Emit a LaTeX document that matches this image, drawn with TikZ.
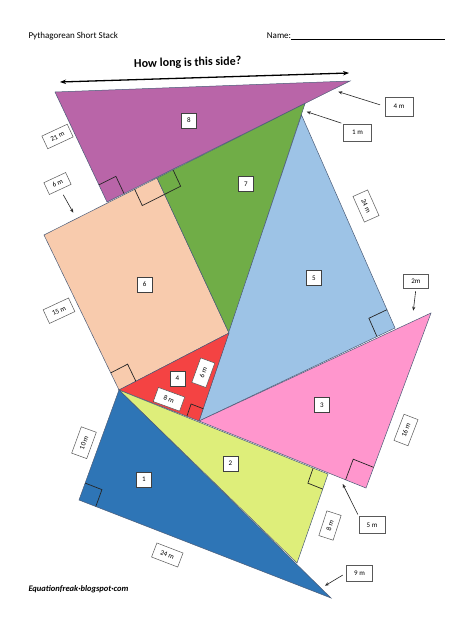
\documentclass[tikz,border=0pt]{standalone}
\usepackage{fontspec}
\setmainfont{Carlito}
\usetikzlibrary{calc,arrows.meta}
\definecolor{cpurple}{RGB}{185,101,168}
\definecolor{cgreen}{RGB}{112,173,71}
\definecolor{cpeach}{RGB}{248,203,173}
\definecolor{clblue}{RGB}{157,195,230}
\definecolor{cred}{RGB}{244,67,67}
\definecolor{cpink}{RGB}{255,150,205}
\definecolor{cyellow}{RGB}{222,238,122}
\definecolor{cdblue}{RGB}{46,117,182}
\definecolor{edgec}{RGB}{75,92,120}
\newcommand{\ramk}[5]{%
  \coordinate (rmA) at ($(#1)!#4!(#2)$);
  \coordinate (rmB) at ($(#1)!#5!(#3)$);
  \draw[rmk] (rmA) -- ($(rmA)+(rmB)-(#1)$) -- (rmB);}
\tikzset{
  shp/.style={draw=edgec, line width=0.5pt},
  rmk/.style={draw=black!85, line width=0.7pt},
  numbox/.style={draw=black!75, fill=white, line width=0.5pt, minimum size=15pt, inner sep=0pt, font=\fontsize{7}{8}\selectfont},
  lenbox/.style={draw=black!65, fill=white, line width=0.5pt, minimum height=16pt, minimum width=28pt, inner sep=1pt, font=\fontsize{7}{8}\selectfont},
  arr/.style={-{Stealth[length=4pt,width=3.2pt]}, line width=0.6pt, draw=black!85},
}
\begin{document}
\begin{tikzpicture}[x=1pt,y=-1pt]
\useasboundingbox (0,0) rectangle (474,632);
\fill[white] (0,0) rectangle (474,632);
% vertices
\coordinate (A) at (55,92);
\coordinate (B) at (350,81);
\coordinate (C) at (107,202);
\coordinate (G1) at (305,103.5);
\coordinate (TL) at (44,235);
\coordinate (TR) at (157,178);
\coordinate (BR) at (229,333);
\coordinate (BL) at (119,390);
\coordinate (R4) at (199,421);
\coordinate (T5) at (301.5,115);
\coordinate (Q5) at (395,328);
\coordinate (P3) at (431,313);
\coordinate (R3) at (366,488);
\coordinate (Y2) at (328,474);
\coordinate (Y3) at (297,563);
\coordinate (L1) at (79,500);
\coordinate (B1) at (331,598);
% shapes
\filldraw[shp, fill=cpeach] (TL) -- (TR) -- (BR) -- (BL) -- cycle;
\filldraw[shp, fill=cpurple] (A) -- (B) -- (C) -- cycle;
\filldraw[shp, fill=cgreen] (TR) -- (G1) -- (BR) -- cycle;
\filldraw[shp, fill=clblue] (T5) -- (Q5) -- (R4) -- cycle;
\filldraw[shp, fill=cred] (BL) -- (BR) -- (R4) -- cycle;
\filldraw[shp, fill=cpink] (R4) -- (P3) -- (R3) -- cycle;
\filldraw[shp, fill=cyellow] (BL) -- (Y2) -- (Y3) -- cycle;
\filldraw[shp, fill=cdblue] (BL) -- (L1) -- (B1) -- cycle;
% right angle marks
\ramk{C}{A}{B}{19pt}{19pt}
\ramk{TR}{G1}{BR}{18pt}{18pt}
\ramk{TR}{TL}{BR}{25pt}{18pt}
\ramk{BL}{TL}{BR}{19pt}{19pt}
\ramk{R4}{BL}{BR}{13pt}{13pt}
\ramk{Q5}{T5}{R4}{20pt}{20pt}
\ramk{R3}{R4}{P3}{22pt}{22pt}
\ramk{Y2}{BL}{Y3}{16pt}{16pt}
\ramk{L1}{BL}{B1}{18pt}{18pt}
% header
\node[anchor=base west, inner sep=0pt, font=\fontsize{9}{10}\selectfont] (title) at (28.3,38) {Pythagorean Short Stack};
\node[anchor=base west, inner sep=0pt, font=\fontsize{9}{10}\selectfont] (nm) at (266.7,38) {Name:};
\coordinate (nmend) at (445,39);
\draw[line width=0.5pt] (nm.base east |- nmend) -- (nmend);
\node[inner sep=0pt, rotate=1.5, font=\fontsize{12}{14}\bfseries] (q) at (187.7,63) {How long is this side?};
\coordinate (dl) at (60,82);
\coordinate (dr) at (349,73);
\draw[{Stealth[length=6pt,width=4.5pt]}-{Stealth[length=6pt,width=4.5pt]}, line width=1.3pt] (dl) -- (dr);
% number boxes
\node[numbox] (n8) at (189,120.5) {8};
\node[numbox] (n7) at (246,184) {7};
\node[numbox] (n6) at (144.7,284.5) {6};
\node[numbox] (n5) at (314,278) {5};
\node[numbox] (n4) at (177.5,378.3) {4};
\node[numbox] (n3) at (322,405) {3};
\node[numbox] (n2) at (230.5,463.7) {2};
\node[numbox] (n1) at (144,479.5) {1};
% length labels
\node[lenbox, rotate=25, minimum height=14pt] (l21) at (57.5,136.5) {21 m};
\node[lenbox, rotate=25, minimum height=13pt, minimum width=24pt] (l6m) at (57.5,183.5) {6 m};
\node[lenbox, rotate=25, minimum height=15pt] (l15) at (59,310.7) {15 m};
\node[lenbox, rotate=70] (l10) at (84,442.7) {10 m};
\node[lenbox, rotate=-21, minimum height=15pt] (l24b) at (167.3,555) {24 m};
\node[lenbox, rotate=72, minimum height=15pt, minimum width=26pt] (l8y) at (330,525.5) {8 m};
\node[lenbox, rotate=-66] (l24) at (366,206) {24 m};
\node[lenbox, rotate=69, minimum height=15pt] (l16) at (406,430) {16 m};
\node[lenbox, rotate=70, minimum height=15pt, minimum width=26pt] (l6r) at (203.3,372.7) {6 m};
\node[lenbox, rotate=-20, minimum height=15pt] (l8r) at (169,399.3) {8 m};
\node[lenbox, minimum height=19pt] (l4m) at (399,106.3) {4 m};
\node[lenbox, minimum height=17pt] (l1m) at (357.5,132.5) {1 m};
\node[lenbox, minimum height=14pt, minimum width=25pt] (l2m) at (416,281) {2m};
\node[lenbox, minimum height=17pt, minimum width=26pt] (l5m) at (372,525) {5 m};
\node[lenbox, minimum height=16pt, minimum width=26pt] (l9m) at (359.5,573) {9 m};
% arrows
\coordinate (e4) at (338.3,91.7);
\coordinate (e1) at (306.7,111.7);
\coordinate (e6) at (73.3,212.7);
\coordinate (e2) at (413.3,310.7);
\coordinate (e5) at (342.7,484);
\coordinate (e9) at (325,585.7);
\draw[arr, shorten <=5pt] (l4m.west) -- (e4);
\draw[arr, shorten <=2pt] (l1m.north west) -- (e1);
\draw[arr, shorten <=6pt] (l6m.south) -- (e6);
\draw[arr, shorten <=3pt] (l2m.south) -- (e2);
\draw[arr, shorten <=2pt] (l5m.north west) -- (e5);
\draw[arr, shorten <=4pt] (l9m.west) -- (e9);
% footer
\node[anchor=base west, inner sep=0pt, font=\fontsize{8.5}{10}\bfseries\itshape] (web) at (28.3,591) {Equationfreak·blogspot·com};
\end{tikzpicture}
\end{document}
